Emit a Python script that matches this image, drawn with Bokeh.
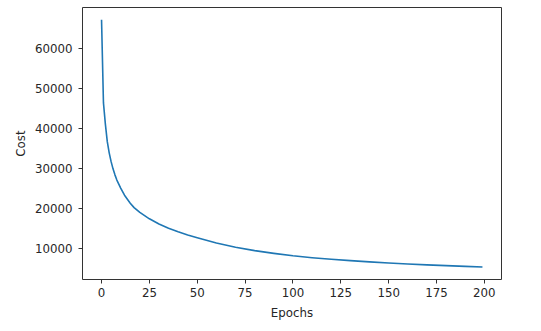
from bokeh.plotting import figure
from bokeh.models import FixedTicker, Range1d
from bokeh.embed import file_html
from bokeh.resources import INLINE

epochs = [0, 1, 2, 3, 4, 5, 6, 7, 8, 10, 12, 15, 17, 20, 25, 30, 35, 40, 45, 50,
          60, 70, 80, 90, 100, 110, 120, 130, 140, 150, 160, 170, 180, 190, 199]
cost = [67300, 46500, 41200, 36800, 34000, 31800, 30000, 28500, 27200, 25200, 23400,
        21400, 20300, 19100, 17500, 16200, 15150, 14250, 13450, 12750,
        11450, 10400, 9550, 8850, 8250, 7780, 7380, 7040, 6740, 6460, 6210, 5990,
        5790, 5600, 5430]
x_ticks = [0, 25, 50, 75, 100, 125, 150, 175, 200]
y_ticks = [10000, 20000, 30000, 40000, 50000, 60000]

FONT = "DejaVu Sans"

p = figure(width=541, height=331, output_backend="svg", toolbar_location=None,
           min_border_left=82, min_border_right=40, min_border_top=7, min_border_bottom=52,
           x_range=Range1d(-9.95, 208.95), y_range=Range1d(2320, 70370))
p.line(epochs, cost, line_color="#1f77b4", line_width=1.6, line_join="round")

p.xgrid.visible = False
p.ygrid.visible = False
p.outline_line_color = "#333333"
p.outline_line_width = 1
p.background_fill_color = "white"
p.border_fill_color = "white"

p.xaxis.ticker = FixedTicker(ticks=x_ticks)
p.yaxis.ticker = FixedTicker(ticks=y_ticks)
p.xaxis.axis_label = "Epochs"
p.yaxis.axis_label = "Cost"
for ax in (p.xaxis, p.yaxis):
    ax.axis_line_color = None
    ax.minor_tick_line_color = None
    ax.major_tick_in = 0
    ax.major_tick_out = 4
    ax.major_tick_line_color = "#333333"
    ax.major_label_text_font = FONT
    ax.major_label_text_font_size = "11.8px"
    ax.major_label_text_color = "#262626"
    ax.axis_label_text_font = FONT
    ax.axis_label_text_font_size = "11.8px"
    ax.axis_label_text_font_style = "normal"
    ax.axis_label_text_color = "#262626"
p.xaxis.major_label_standoff = 4
p.yaxis.major_label_standoff = 6
p.xaxis.axis_label_standoff = 6
p.yaxis.axis_label_standoff = 4

open("out.html", "w").write(file_html(p, INLINE))
